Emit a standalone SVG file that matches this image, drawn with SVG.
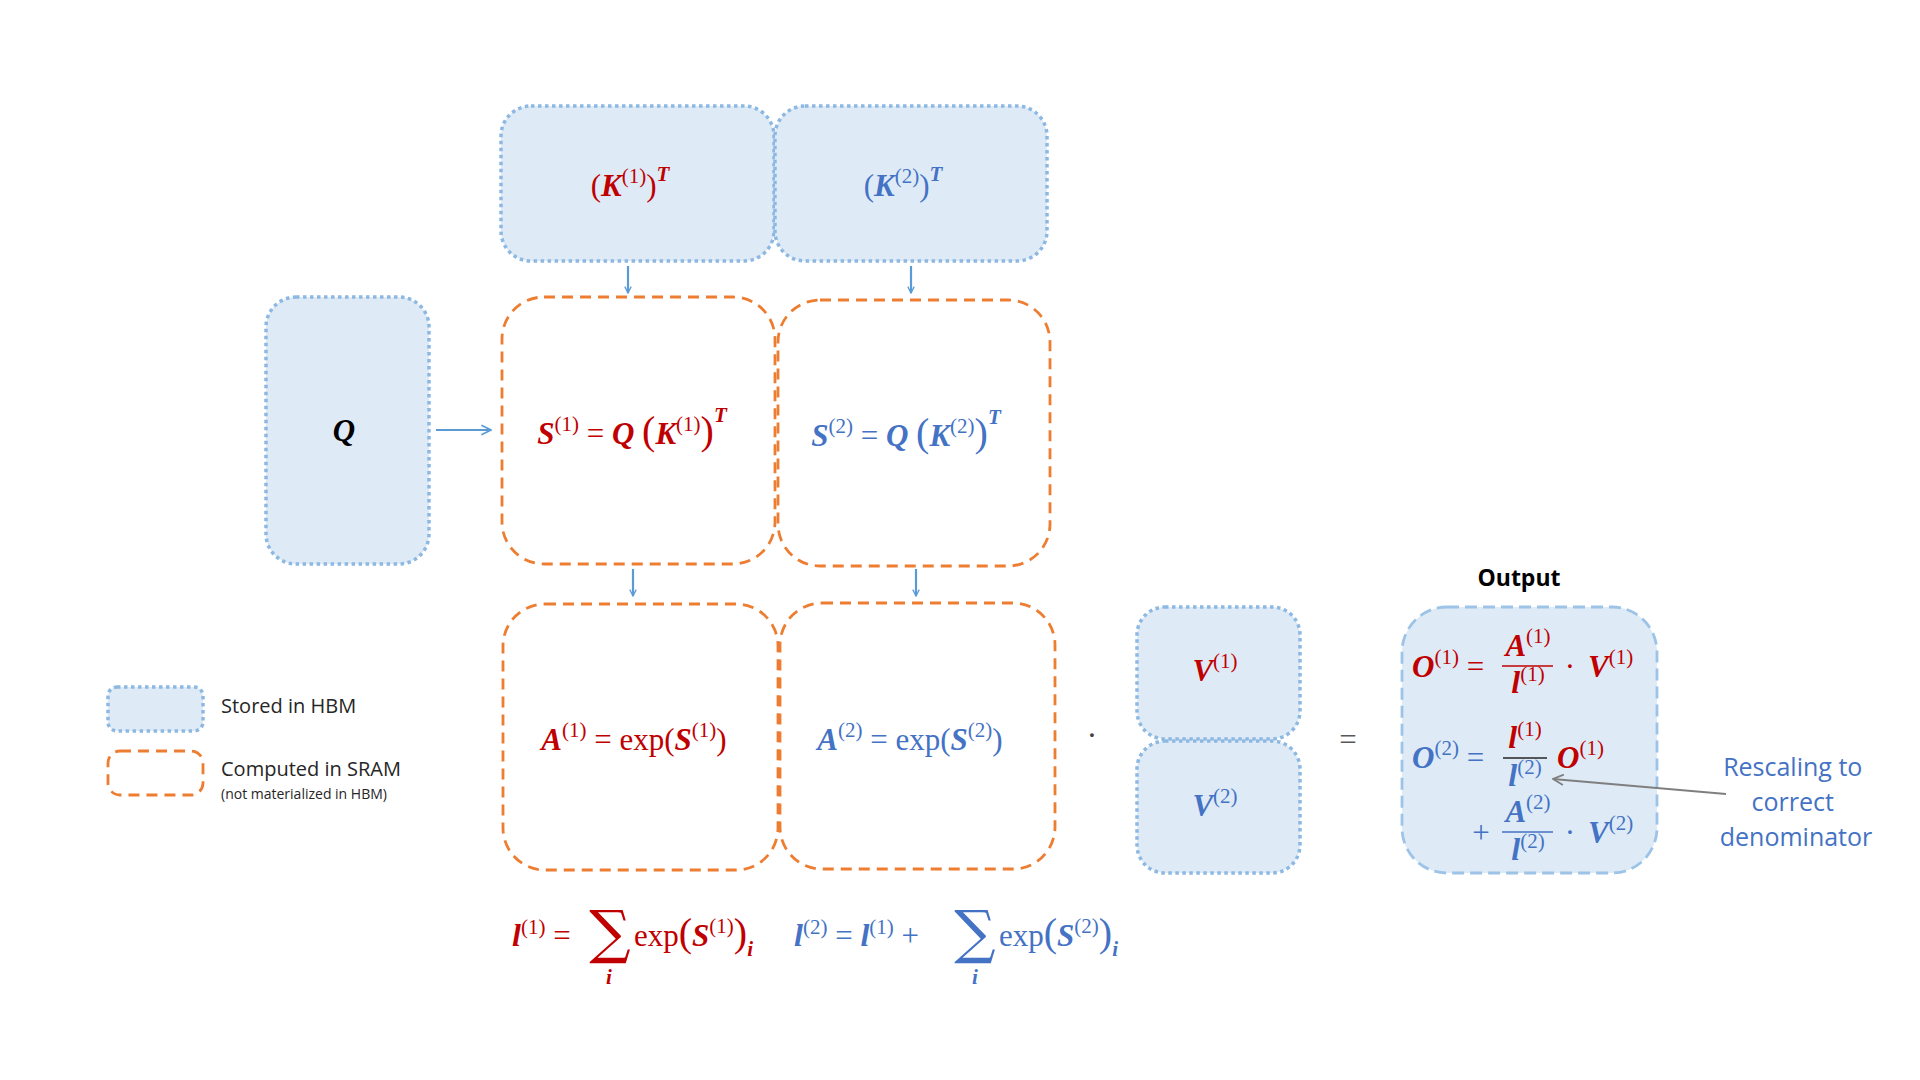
<svg xmlns="http://www.w3.org/2000/svg" width="1920" height="1080" viewBox="0 0 1920 1080">
<defs>
<style>
.hbm{fill:#DEEBF7;stroke:#8DB8E2;stroke-width:3.5;stroke-dasharray:3.5 3.5}
.sram{fill:none;stroke:#ED7D31;stroke-width:2.8;stroke-dasharray:11 7}
.outb{fill:#DEEBF7;stroke:#9DC3E6;stroke-width:2.8;stroke-dasharray:12 6}
.m{font-family:"Liberation Serif","DejaVu Serif",serif;font-size:31px}
.v{font-style:italic;font-weight:bold}
.l{font-family:"Liberation Serif","DejaVu Serif",serif;font-style:italic;font-weight:bold;font-size:32px}
.s{font-size:21px}
.big{font-size:40px}
.red{fill:#C00000}
.blu{fill:#4472C4}
.sum{font-family:"DejaVu Serif","Liberation Serif",serif;font-size:58px;font-weight:normal}
.sans{font-family:"Open Sans","Liberation Sans",sans-serif}
.conn{stroke:#5B9BD5;stroke-width:2.2;fill:none}
</style>
<marker id="ah" viewBox="0 0 10 10" refX="9" refY="5" markerWidth="8" markerHeight="8" orient="auto" markerUnits="userSpaceOnUse">
<path d="M1,1 L9,5 L1,9" fill="none" stroke="#5B9BD5" stroke-width="1.6"/>
</marker>
<marker id="ahL" viewBox="0 0 10 10" refX="9" refY="5" markerWidth="12" markerHeight="12" orient="auto" markerUnits="userSpaceOnUse">
<path d="M1,1 L9,5 L1,9" fill="none" stroke="#5B9BD5" stroke-width="1.4"/>
</marker>
<marker id="ahg" viewBox="0 0 10 10" refX="9" refY="5" markerWidth="13" markerHeight="13" orient="auto" markerUnits="userSpaceOnUse">
<path d="M1,1 L9,5 L1,9" fill="none" stroke="#7F7F7F" stroke-width="1.4"/>
</marker>
</defs>
<rect width="1920" height="1080" fill="#FFFFFF"/>

<g id="node-K1">
<rect class="hbm" x="501" y="106" width="273" height="155" rx="30"/>
<text x="630" y="196" text-anchor="middle" class="m red">(<tspan class="v">K</tspan><tspan class="s" dy="-13">(1)</tspan><tspan dy="13">)</tspan><tspan class="v s" dy="-15">T</tspan></text>
</g>
<g id="node-K2">
<rect class="hbm" x="775" y="106" width="272" height="155" rx="30"/>
<text x="903" y="196" text-anchor="middle" class="m blu">(<tspan class="v">K</tspan><tspan class="s" dy="-13">(2)</tspan><tspan dy="13">)</tspan><tspan class="v s" dy="-15">T</tspan></text>
</g>
<g id="node-Q">
<rect class="hbm" x="266" y="297" width="163" height="267" rx="30"/>
<text x="344" y="441" text-anchor="middle" class="m v" fill="#000000">Q</text>
</g>
<g id="node-S1">
<rect class="sram" x="502" y="297" width="273" height="267" rx="42"/>
<text x="632" y="444" text-anchor="middle" class="m red"><tspan class="v">S</tspan><tspan class="s" dy="-13">(1)</tspan><tspan dy="13"> = </tspan><tspan class="v">Q</tspan> <tspan class="big">(</tspan><tspan class="v">K</tspan><tspan class="s" dy="-13">(1)</tspan><tspan class="big" dy="13">)</tspan><tspan class="v s" dy="-22">T</tspan></text>
</g>
<g id="node-S2">
<rect class="sram" x="778" y="300" width="272" height="266" rx="42"/>
<text x="906" y="446" text-anchor="middle" class="m blu"><tspan class="v">S</tspan><tspan class="s" dy="-13">(2)</tspan><tspan dy="13"> = </tspan><tspan class="v">Q</tspan> <tspan class="big">(</tspan><tspan class="v">K</tspan><tspan class="s" dy="-13">(2)</tspan><tspan class="big" dy="13">)</tspan><tspan class="v s" dy="-22">T</tspan></text>
</g>
<g id="node-A1">
<rect class="sram" x="503" y="604" width="275" height="266" rx="42"/>
<text x="634" y="750" text-anchor="middle" class="m red"><tspan class="v">A</tspan><tspan class="s" dy="-13">(1)</tspan><tspan dy="13"> = exp(</tspan><tspan class="v">S</tspan><tspan class="s" dy="-13">(1)</tspan><tspan dy="13">)</tspan></text>
</g>
<g id="node-A2">
<rect class="sram" x="780" y="603" width="275" height="266" rx="42"/>
<text x="910" y="750" text-anchor="middle" class="m blu"><tspan class="v">A</tspan><tspan class="s" dy="-13">(2)</tspan><tspan dy="13"> = exp(</tspan><tspan class="v">S</tspan><tspan class="s" dy="-13">(2)</tspan><tspan dy="13">)</tspan></text>
</g>

<text x="1092" y="746" text-anchor="middle" class="m" fill="#404040">·</text>

<g id="node-V1">
<rect class="hbm" x="1137" y="607" width="163" height="132" rx="28"/>
<text x="1215" y="681" text-anchor="middle" class="m red"><tspan class="v">V</tspan><tspan class="s" dy="-13">(1)</tspan></text>
</g>
<g id="node-V2">
<rect class="hbm" x="1137" y="741" width="163" height="132" rx="28"/>
<text x="1215" y="816" text-anchor="middle" class="m blu"><tspan class="v">V</tspan><tspan class="s" dy="-13">(2)</tspan></text>
</g>

<text x="1348" y="750" text-anchor="middle" class="m" fill="#595959">=</text>

<g id="node-Output">
<text x="1519" y="586" text-anchor="middle" class="sans" font-size="23" font-weight="bold" fill="#000000">Output</text>
<rect class="outb" x="1402" y="607" width="255" height="266" rx="45"/>
<text x="1412" y="677" class="m red"><tspan class="v">O</tspan><tspan class="s" dy="-13">(1)</tspan><tspan dy="13"> =</tspan></text>
<line x1="1502" y1="666" x2="1553" y2="666" stroke="#C00000" stroke-width="1.6"/>
<text x="1528" y="656" text-anchor="middle" class="m red"><tspan class="v">A</tspan><tspan class="s" dy="-13">(1)</tspan></text>
<text x="1528" y="693" text-anchor="middle" class="m red"><tspan class="l">l</tspan><tspan class="s" dy="-12">(1)</tspan></text>
<text x="1570" y="677" text-anchor="middle" class="m red">·</text>
<text x="1588" y="677" class="m red"><tspan class="v">V</tspan><tspan class="s" dy="-13">(1)</tspan></text>

<text x="1412" y="768" class="m blu"><tspan class="v">O</tspan><tspan class="s" dy="-13">(2)</tspan><tspan dy="13"> =</tspan></text>
<line x1="1503" y1="758" x2="1547" y2="758" stroke="#262626" stroke-width="1.6"/>
<text x="1525" y="748" text-anchor="middle" class="m red"><tspan class="l">l</tspan><tspan class="s" dy="-12">(1)</tspan></text>
<text x="1525" y="786" text-anchor="middle" class="m blu"><tspan class="l">l</tspan><tspan class="s" dy="-12">(2)</tspan></text>
<text x="1557" y="768" class="m red"><tspan class="v">O</tspan><tspan class="s" dy="-13">(1)</tspan></text>

<text x="1481" y="843" text-anchor="middle" class="m blu">+</text>
<line x1="1502" y1="832" x2="1553" y2="832" stroke="#4472C4" stroke-width="1.6"/>
<text x="1528" y="822" text-anchor="middle" class="m blu"><tspan class="v">A</tspan><tspan class="s" dy="-13">(2)</tspan></text>
<text x="1528" y="860" text-anchor="middle" class="m blu"><tspan class="l">l</tspan><tspan class="s" dy="-12">(2)</tspan></text>
<text x="1570" y="843" text-anchor="middle" class="m blu">·</text>
<text x="1588" y="843" class="m blu"><tspan class="v">V</tspan><tspan class="s" dy="-13">(2)</tspan></text>
</g>

<g id="annotation">
<text class="sans" font-size="25" fill="#4472C4" text-anchor="middle">
<tspan x="1796" y="776">Rescaling to</tspan>
<tspan x="1796" y="811">correct</tspan>
<tspan x="1796" y="846">denominator</tspan>
</text>
</g>

<g id="formula-l1">
<text x="512" y="946" class="m red"><tspan class="l">l</tspan><tspan class="s" dy="-12">(1)</tspan><tspan dy="12"> =</tspan></text>
<text x="610" y="952" text-anchor="middle" class="sum red">∑</text>
<text x="609" y="984" text-anchor="middle" class="m v s red">i</text>
<text x="634" y="946" class="m red">exp<tspan class="big">(</tspan><tspan class="v">S</tspan><tspan class="s" dy="-13">(1)</tspan><tspan class="big" dy="13">)</tspan><tspan class="v s" dy="10">i</tspan></text>
</g>
<g id="formula-l2">
<text x="794" y="946" class="m blu"><tspan class="l">l</tspan><tspan class="s" dy="-12">(2)</tspan><tspan dy="12"> = </tspan><tspan class="l">l</tspan><tspan class="s" dy="-12">(1)</tspan><tspan dy="12"> +</tspan></text>
<text x="975" y="952" text-anchor="middle" class="sum blu">∑</text>
<text x="975" y="984" text-anchor="middle" class="m v s blu">i</text>
<text x="999" y="946" class="m blu">exp<tspan class="big">(</tspan><tspan class="v">S</tspan><tspan class="s" dy="-13">(2)</tspan><tspan class="big" dy="13">)</tspan><tspan class="v s" dy="10">i</tspan></text>
</g>

<g id="legend">
<rect class="hbm" x="108" y="687" width="95" height="44" rx="9"/>
<text x="221" y="713" class="sans" font-size="20" fill="#262626">Stored in HBM</text>
<rect class="sram" x="108" y="751" width="95" height="44" rx="12"/>
<text x="221" y="776" class="sans" font-size="20" fill="#262626">Computed in SRAM</text>
<text x="221" y="799" class="sans" font-size="14" fill="#262626">(not materialized in HBM)</text>
</g>

<g id="connectors">
<line class="conn" x1="628" y1="266" x2="628" y2="293" marker-end="url(#ah)"/>
<line class="conn" x1="911" y1="266" x2="911" y2="293" marker-end="url(#ah)"/>
<line class="conn" x1="436" y1="430" x2="491" y2="430" marker-end="url(#ahL)"/>
<line class="conn" x1="633" y1="569" x2="633" y2="596" marker-end="url(#ah)"/>
<line class="conn" x1="916" y1="569" x2="916" y2="596" marker-end="url(#ah)"/>
<line x1="1726" y1="794" x2="1553" y2="779" stroke="#7F7F7F" stroke-width="2" marker-end="url(#ahg)"/>
</g>
</svg>
